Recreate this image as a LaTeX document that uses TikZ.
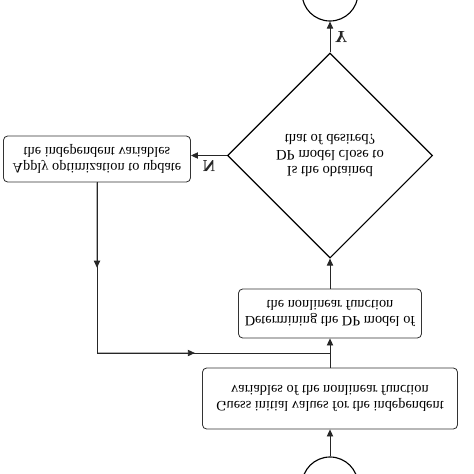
\documentclass[tikz,border=0pt]{standalone}
\usepackage{fontspec}
\setmainfont{Liberation Serif}
\usetikzlibrary{shapes.geometric,calc,arrows.meta}

\begin{document}
\begin{tikzpicture}[x=0.025cm, y=0.025cm, yscale=-1, transform shape,
        box/.style={
          draw=black!80, semithick, rounded corners=3pt, align=center, inner sep=0pt,
          font=\fontsize{10.2}{11.5}\selectfont
        },
        decision/.style={
          diamond, draw, thick, aspect=1, inner sep=0pt,
          minimum size=5.125cm, align=center, font=\fontsize{10.4}{11.5}\selectfont
        },
        terminal/.style={circle, draw, thick, minimum size=1.4cm},
        flow/.style={-{Stealth[length=5pt, width=4.5pt, inset=0pt]}, semithick, black!85},
        answer/.style={font=\bfseries\fontsize{12}{13}\selectfont}
      ]
      \useasboundingbox (0,0) rectangle (474,474);
      \node [terminal] (start) at (330,485) {};
      \node [box, minimum width=6.375cm, minimum height=1.525cm] (guess) at (330,398.5)
        {Guess initial values for the independent\\variables of the nonlinear function};
      \node [box, minimum width=4.575cm, minimum height=1.225cm] (determine) at (330,313.5)
        {Determining the DP model of\\the nonlinear function};
      \node [decision] (decide) at (330,155.5)
        {Is the obtained\\DP model close to\\that of desired?};
      \node [box, minimum width=4.675cm, minimum height=1.15cm] (apply) at (97,159)
        {Apply optimization to update\\the independent variables};
      \node [terminal] (stop) at (330,-7) {};
      \coordinate (corner) at (97,353);
      \coordinate (join) at (330,353);

      \draw [flow] (start) -- (guess);
      \draw [flow] (guess) -- (determine);
      \draw [flow] (determine) -- (decide);
      \draw [flow] (decide) -- (stop) node [midway, right, answer] {Y};
      \draw [flow] (decide.west) -- (decide.west -| apply.east) node [midway, above, answer] {N};
      % loop back into the main line
      \draw [semithick, black!85] (apply.north) |- (join);
      \draw [flow] (apply.north) -- ($(apply.north)!.5!(corner)$);
      \draw [flow] (corner) -- ($(corner)!.42!(join)$);
    \end{tikzpicture}
\end{document}
